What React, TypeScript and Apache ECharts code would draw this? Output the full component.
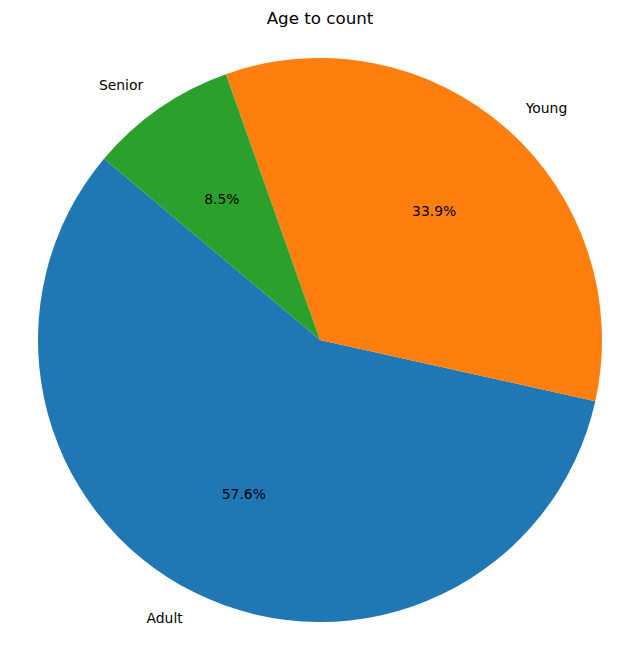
import React, { useEffect, useRef } from "react";
import * as echarts from "echarts";

const categories = ["Adult", "Young", "Senior"];
const counts = [68, 40, 10];
const colors = ["#1f77b4", "#ff7f0e", "#2ca02c"];
const titleText = "Age to count";

export default function App() {
  const ref = useRef<HTMLDivElement>(null);
  useEffect(() => {
    document.body.style.margin = "0";
    const chart = echarts.init(ref.current!, null, { renderer: "svg" });
    const total = counts.reduce((a, b) => a + b, 0);
    const R = 282;
    const data = categories.map((name, i) => ({
      name,
      value: counts[i],
      itemStyle: { color: colors[i] },
    }));
    const font = "DejaVu Sans";
    chart.setOption({
      animation: false,
      backgroundColor: "#ffffff",
      title: {
        text: titleText,
        left: "center",
        top: 4,
        textStyle: { fontFamily: font, fontSize: 16.7, fontWeight: "normal", color: "#000" },
      },
      series: [
        {
          type: "pie",
          center: [320, 340],
          radius: [0, R],
          startAngle: 140,
          clockwise: false,
          avoidLabelOverlap: false,
          silent: true,
          itemStyle: { borderWidth: 0 },
          label: {
            show: true,
            position: "outside",
            formatter: "{b}",
            fontFamily: font,
            fontSize: 13.9,
            color: "#000",
            distanceToLabelLine: 0,
          },
          labelLine: { show: false, length: R * 0.1, length2: 0 },
          data,
        },
        {
          type: "pie",
          center: [320, 340],
          radius: [R * 0.2, R],
          startAngle: 140,
          clockwise: false,
          avoidLabelOverlap: false,
          silent: true,
          itemStyle: { color: "transparent", borderWidth: 0 },
          label: {
            show: true,
            position: "inside",
            formatter: (p: any) => ((p.value / total) * 100).toFixed(1) + "%",
            fontFamily: font,
            fontSize: 13.9,
            color: "#000",
          },
          labelLine: { show: false },
          data: categories.map((name, i) => ({ name, value: counts[i], itemStyle: { color: "transparent" } })),
        },
      ],
    });
    return () => chart.dispose();
  }, []);
  return <div ref={ref} style={{ width: 640, height: 658 }} />;
}
